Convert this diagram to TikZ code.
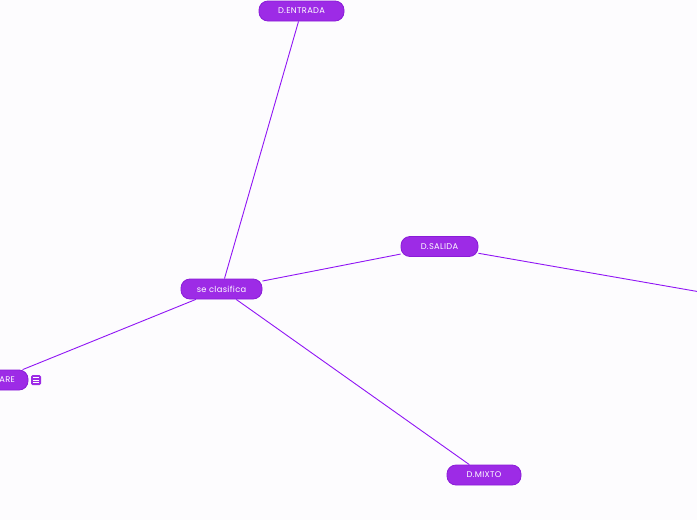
\documentclass[tikz,border=0pt]{standalone}
\usepackage{fontspec}
\setmainfont{Poppins}
\definecolor{topicfill}{HTML}{9D2BE6}
\definecolor{topicdraw}{HTML}{8A1CD8}
\definecolor{linkline}{HTML}{9015F5}
\definecolor{paper}{HTML}{FDFCFE}

\begin{document}
\begin{tikzpicture}[x=1pt, y=-1pt,
    topic/.style = {draw=topicdraw, fill=topicfill, text=white, line width=0.8pt,
        rounded corners=9pt, minimum height=20pt, inner xsep=6pt,
        font=\fontsize{8.3}{10}\selectfont\addfontfeatures{LetterSpace=4}},
    link/.style = {draw=linkline, line width=0.9pt}]

    \fill [paper] (0,0) rectangle (697,520);
    \useasboundingbox (0,0) rectangle (697,520);
    \clip (0,0) rectangle (697,520);

    % Topics
    \node [topic, minimum width=85pt] (entrada) at (301.5,11) {D.ENTRADA};
    \node [topic, minimum width=81pt] (clasifica) at (221.5,289) {se clasifica};
    \node [topic, minimum width=77pt] (salida) at (439.5,246.5) {D.SALIDA};
    \node [topic, minimum width=74pt] (mixto) at (484,475) {D.MIXTO};
    \node [topic, text width=36pt, align=right, inner xsep=13pt] (are) at (-3,380) {ARE};
    \coordinate (beyond) at (760,302.4);

    % Menu icon
    \node [fill=topicfill, rounded corners=1.5pt, minimum size=10pt, inner sep=0pt] (menu) at (36,380) {};
    \foreach \dy in {-2.2,0,2.2}
        \draw [white, line width=0.7pt] ([xshift=-2.6pt, yshift=-\dy pt]menu.center) -- ([xshift=2.6pt, yshift=-\dy pt]menu.center);

    % Links
    \draw [link] (entrada) -- (clasifica);
    \draw [link] (clasifica) -- (salida);
    \draw [link] (clasifica) -- (mixto);
    \draw [link] (clasifica) -- (are);
    \draw [link] (salida) -- (beyond);
\end{tikzpicture}
\end{document}
